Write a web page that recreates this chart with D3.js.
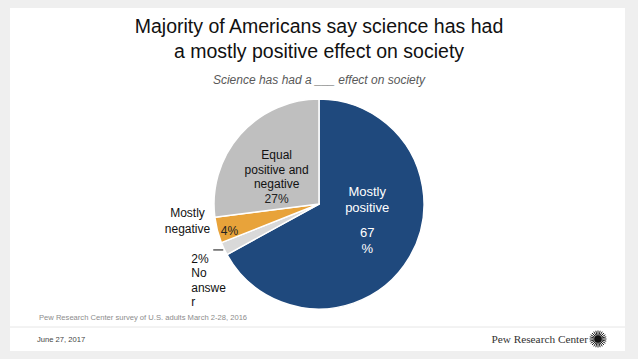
<!DOCTYPE html>
<html>
<head>
<meta charset="utf-8">
<script src="https://cdn.jsdelivr.net/npm/d3@7"></script>
<style>
  body { margin: 0; background: #efefef; }
  svg { display: block; font-family: "Liberation Sans", Arial, sans-serif; }
</style>
</head>
<body>
<div id="chart"></div>
<script>
// data (clockwise from 12 o'clock)
const categories = ['Mostly positive', 'No answer', 'Mostly negative', 'Equal positive and negative'];
const values = [67, 2, 4, 27];
const colors = ['#1f497d', '#d9d9d9', '#e8a33a', '#bfbfbf'];

const width = 638, height = 359;
const cx = 319, cy = 204, radius = 105;

const svg = d3.select('#chart').append('svg')
  .attr('width', width)
  .attr('height', height);

// white slide
svg.append('rect')
  .attr('x', 10).attr('y', 8)
  .attr('width', 615).attr('height', 343)
  .attr('fill', '#fff');
svg.append('line')
  .attr('x1', 10).attr('x2', 625)
  .attr('y1', 327).attr('y2', 327)
  .attr('stroke', '#e6e6e6');

// titles
const title = svg.append('text')
  .attr('text-anchor', 'middle')
  .attr('font-size', 19.5)
  .attr('fill', '#111');
title.append('tspan').attr('x', cx).attr('y', 33).text('Majority of Americans say science has had');
title.append('tspan').attr('x', cx).attr('y', 58).text('a mostly positive effect on society');

svg.append('text')
  .attr('x', cx).attr('y', 84)
  .attr('text-anchor', 'middle')
  .attr('font-size', 12)
  .attr('font-style', 'italic')
  .attr('fill', '#595959')
  .text('Science has had a ___ effect on society');

// pie
const pie = d3.pie().sort(null).value(d => d);
const arcs = pie(values);
const arc = d3.arc().innerRadius(0).outerRadius(radius);

const g = svg.append('g').attr('transform', `translate(${cx},${cy})`);
g.selectAll('path')
  .data(arcs)
  .enter()
  .append('path')
  .attr('d', arc)
  .attr('fill', (d, i) => colors[i])
  .attr('stroke', '#fff')
  .attr('stroke-width', 1.5)
  .attr('stroke-linejoin', 'round');

// labels
function lines(x, y, rows, opts) {
  const t = g.append('text')
    .attr('text-anchor', opts.anchor || 'middle')
    .attr('font-size', opts.size)
    .attr('fill', opts.fill);
  rows.forEach((r, i) => {
    t.append('tspan').attr('x', x).attr('y', y + i * opts.lh).text(r);
  });
}

// Mostly positive
const cPos = d3.arc().innerRadius(radius * 0.5).outerRadius(radius * 0.5).centroid(arcs[0]);
lines(cPos[0] + 3, cPos[1] - 35, ['Mostly', 'positive'], { size: 13, fill: '#fff', lh: 16 });
lines(cPos[0] + 3, cPos[1] + 6, [values[0], '%'], { size: 13, fill: '#fff', lh: 16 });

// Equal positive and negative
const cEq = d3.arc().innerRadius(radius * 0.5).outerRadius(radius * 0.5).centroid(arcs[3]);
lines(cEq[0] - 3, cEq[1] - 10, ['Equal', 'positive and', 'negative'], { size: 12, fill: '#111', lh: 14.5 });
lines(cEq[0] - 3, cEq[1] + 34, [values[3] + '%'], { size: 12, fill: '#222', lh: 14.5 });

// Mostly negative
const cNeg = d3.arc().innerRadius(radius * 0.9).outerRadius(radius * 0.9).centroid(arcs[2]);
lines(cNeg[0] + 2, cNeg[1] + 7, [values[2] + '%'], { size: 12, fill: '#222', lh: 15, anchor: 'middle' });
lines(cNeg[0] - 40, cNeg[1] - 11, ['Mostly', 'negative'], { size: 12, fill: '#111', lh: 16 });

// No answer
const cNa = d3.arc().innerRadius(radius * 1.05).outerRadius(radius * 1.05).centroid(arcs[1]);
g.append('line')
  .attr('x1', cNa[0] - 6).attr('x2', cNa[0] + 4)
  .attr('y1', cNa[1] - 1).attr('y2', cNa[1] - 1)
  .attr('stroke', '#111').attr('stroke-width', 1);
lines(cNa[0] - 28, cNa[1] + 12, [values[1] + '%', 'No', 'answe', 'r'], { size: 12, fill: '#111', lh: 14.5, anchor: 'start' });

// footer
svg.append('text')
  .attr('x', 39).attr('y', 320)
  .attr('font-size', 7.6)
  .attr('fill', '#8c8c8c')
  .text('Pew Research Center survey of U.S. adults March 2-28, 2016');

svg.append('text')
  .attr('x', 37).attr('y', 342)
  .attr('font-size', 7.6)
  .attr('fill', '#444')
  .text('June 27, 2017');

svg.append('text')
  .attr('x', 588).attr('y', 343)
  .attr('text-anchor', 'end')
  .attr('font-family', '"Liberation Serif", serif')
  .attr('font-size', 11.3)
  .attr('fill', '#333')
  .text('Pew Research Center');

// logo sunburst
const logo = svg.append('g').attr('transform', 'translate(598,339)');
d3.range(24).forEach(i => {
  const a = i / 24 * Math.PI * 2;
  logo.append('line')
    .attr('x1', Math.cos(a) * 3).attr('y1', Math.sin(a) * 3)
    .attr('x2', Math.cos(a) * 8.5).attr('y2', Math.sin(a) * 8.5)
    .attr('stroke', '#222').attr('stroke-width', 1);
});
logo.append('circle').attr('r', 3.5).attr('fill', '#111');
</script>
</body>
</html>
